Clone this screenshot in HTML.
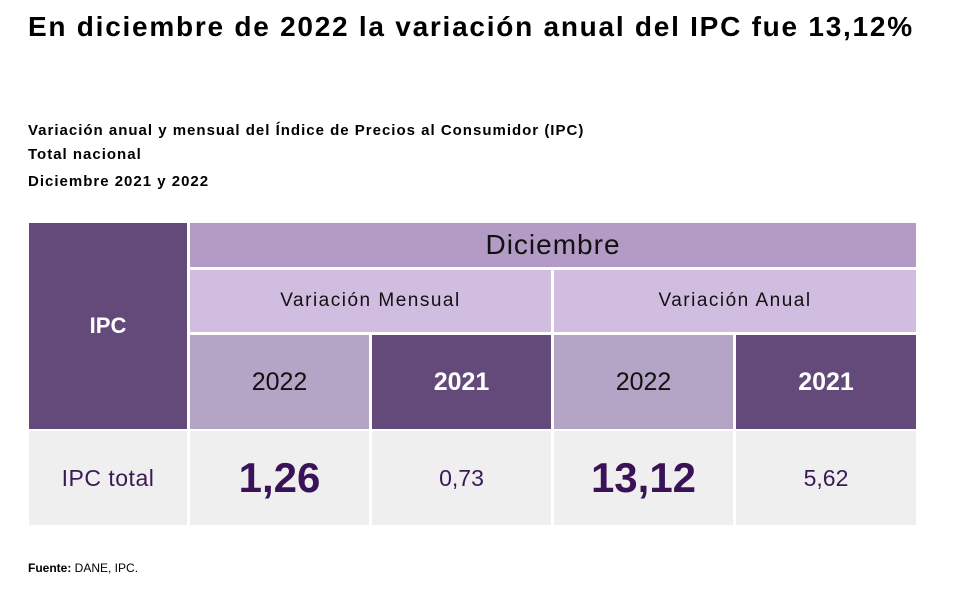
<!DOCTYPE html>
<html><head><meta charset="utf-8"><style>
body{margin:0;background:#fff;width:960px;height:589px;position:relative;overflow:hidden;font-family:"Liberation Sans",sans-serif}
.t{position:absolute;white-space:nowrap}
.c{position:absolute;display:flex;align-items:center;justify-content:center;white-space:nowrap}
.dk{background:#644a7a;color:#fff;font-weight:bold}
.h1{background:#b49bc6;color:#111}
.h2{background:#d0bde0;color:#111}
.lt{background:#b4a4c6;color:#111}
.gr{background:#efefef;color:#3a1a55}
</style></head><body>
<div class="t" style="left:28px;top:11px;font-size:28px;letter-spacing:1.75px;font-weight:bold;color:#000">En diciembre de 2022 la variación anual del IPC fue 13,12%</div>
<div class="t" style="left:28px;top:122px;font-size:15px;letter-spacing:1px;font-weight:bold">Variación anual y mensual del Índice de Precios al Consumidor (IPC)</div>
<div class="t" style="left:28px;top:146px;font-size:15px;letter-spacing:1px;font-weight:bold">Total nacional</div>
<div class="t" style="left:28px;top:173px;font-size:15px;letter-spacing:1px;font-weight:bold">Diciembre 2021 y 2022</div>

<div class="c dk" style="left:29px;top:223px;width:158px;height:206px;font-size:22px">IPC</div>
<div class="c h1" style="left:190px;top:223px;width:726px;height:44px;font-size:28px;letter-spacing:1px">Diciembre</div>
<div class="c h2" style="left:190px;top:270px;width:361px;height:62px;font-size:19px;letter-spacing:1.5px">Variación Mensual</div>
<div class="c h2" style="left:554px;top:270px;width:362px;height:62px;font-size:19px;letter-spacing:1.5px">Variación Anual</div>
<div class="c lt" style="left:190px;top:335px;width:179px;height:94px;font-size:25px">2022</div>
<div class="c dk" style="left:372px;top:335px;width:179px;height:94px;font-size:25px">2021</div>
<div class="c lt" style="left:554px;top:335px;width:179px;height:94px;font-size:25px">2022</div>
<div class="c dk" style="left:736px;top:335px;width:180px;height:94px;font-size:25px">2021</div>

<div class="c gr" style="left:29px;top:431px;width:158px;height:94px;font-size:23px;letter-spacing:0.5px">IPC total</div>
<div class="c gr" style="left:190px;top:431px;width:179px;height:94px;font-size:42px;font-weight:bold;color:#3a1258">1,26</div>
<div class="c gr" style="left:372px;top:431px;width:179px;height:94px;font-size:23px">0,73</div>
<div class="c gr" style="left:554px;top:431px;width:179px;height:94px;font-size:42px;font-weight:bold;color:#3a1258">13,12</div>
<div class="c gr" style="left:736px;top:431px;width:180px;height:94px;font-size:23px">5,62</div>

<div class="t" style="left:28px;top:561px;font-size:12px"><b>Fuente:</b> DANE, IPC.</div>
</body></html>
